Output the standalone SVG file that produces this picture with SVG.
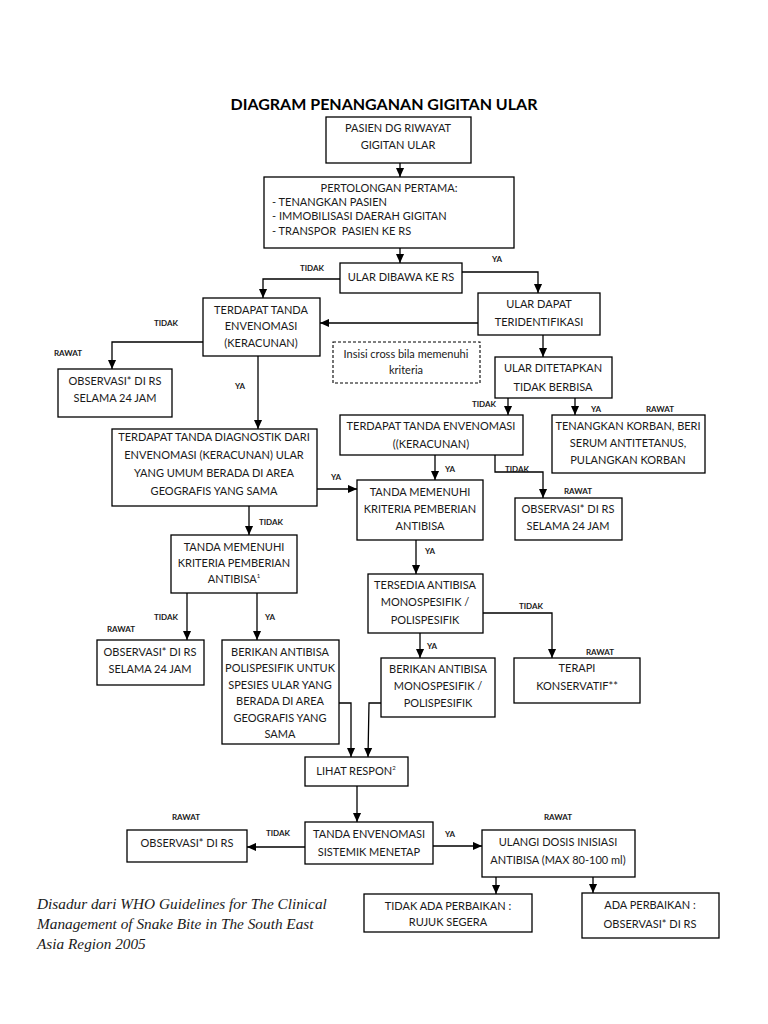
<svg xmlns="http://www.w3.org/2000/svg" width="768" height="1024" viewBox="0 0 768 1024">
<style>
.b{fill:#fff;stroke:#000;stroke-width:1.3}
.d{fill:#fff;stroke:#000;stroke-width:1.1;stroke-dasharray:3,2}
.t{font-family:Lato,"Open Sans",sans-serif;font-size:11px;fill:#1a1a1a;text-anchor:middle}
.tl{font-family:Lato,"Open Sans",sans-serif;font-size:11px;fill:#1a1a1a}
.l{font-family:Lato,"Open Sans",sans-serif;font-size:8px;font-weight:bold;fill:#1a1a1a;text-anchor:middle}
.c{fill:none;stroke:#000;stroke-width:1.3}
.ti{font-family:Lato,"Open Sans",sans-serif;font-size:16px;font-weight:bold;fill:#000;text-anchor:middle}
.f{font-family:"Liberation Serif","Times New Roman",serif;font-style:italic;font-size:15.3px;fill:#1a1a1a}
</style>
<defs>
<marker id="ah" viewBox="0 0 10 10" refX="10" refY="5" markerWidth="9" markerHeight="9" orient="auto" markerUnits="userSpaceOnUse"><path d="M0,0.5 L10,5 L0,9.5 z" fill="#000"/></marker>
</defs>
<rect width="768" height="1024" fill="#fff"/>
<text class="ti" x="384" y="110">DIAGRAM PENANGANAN GIGITAN ULAR</text>

<g id="connectors">
<path class="c" marker-end="url(#ah)" d="M400,163 V177"/>
<path class="c" marker-end="url(#ah)" d="M400,248 V263"/>
<path class="c" marker-end="url(#ah)" d="M340,279 H263 V298"/>
<path class="c" marker-end="url(#ah)" d="M462,272 H538 V293"/>
<path class="c" marker-end="url(#ah)" d="M478,323 H320"/>
<path class="c" marker-end="url(#ah)" d="M543,335 V357"/>
<path class="c" marker-end="url(#ah)" d="M203,342 H112 V369"/>
<path class="c" marker-end="url(#ah)" d="M258,356 V429"/>
<path class="c" marker-end="url(#ah)" d="M508,398 V415"/>
<path class="c" marker-end="url(#ah)" d="M575,398 V415"/>
<path class="c" marker-end="url(#ah)" d="M317,489 H357"/>
<path class="c" marker-end="url(#ah)" d="M435,455 V480"/>
<path class="c" marker-end="url(#ah)" d="M495,455 V472 H543 V498"/>
<path class="c" marker-end="url(#ah)" d="M249,506 V535"/>
<path class="c" marker-end="url(#ah)" d="M416,540 V574"/>
<path class="c" marker-end="url(#ah)" d="M187,593 V640"/>
<path class="c" marker-end="url(#ah)" d="M257,593 V640"/>
<path class="c" marker-end="url(#ah)" d="M483,613 H552 V658"/>
<path class="c" marker-end="url(#ah)" d="M420,633 V658"/>
<path class="c" marker-end="url(#ah)" d="M339,703 H351 V757"/>
<path class="c" marker-end="url(#ah)" d="M381,703 H369 L368,757"/>
<path class="c" marker-end="url(#ah)" d="M357,786 V822"/>
<path class="c" marker-end="url(#ah)" d="M305,847 H247"/>
<path class="c" marker-end="url(#ah)" d="M433,846 H482"/>
<path class="c" marker-end="url(#ah)" d="M496,877 V894"/>
<path class="c" marker-end="url(#ah)" d="M593,877 V893"/>
</g>

<g id="labels">
<text class="l" x="312" y="271">TIDAK</text>
<text class="l" x="497" y="262">YA</text>
<text class="l" x="166" y="326">TIDAK</text>
<text class="l" x="68" y="356">RAWAT</text>
<text class="l" x="240" y="389">YA</text>
<text class="l" x="484" y="407">TIDAK</text>
<text class="l" x="596" y="412">YA</text>
<text class="l" x="660" y="412">RAWAT</text>
<text class="l" x="336" y="480">YA</text>
<text class="l" x="450" y="472">YA</text>
<text class="l" x="517" y="472">TIDAK</text>
<text class="l" x="578" y="494">RAWAT</text>
<text class="l" x="271" y="525">TIDAK</text>
<text class="l" x="430" y="554">YA</text>
<text class="l" x="531" y="609">TIDAK</text>
<text class="l" x="600" y="655">RAWAT</text>
<text class="l" x="432" y="649">YA</text>
<text class="l" x="166" y="620">TIDAK</text>
<text class="l" x="121" y="632">RAWAT</text>
<text class="l" x="270" y="620">YA</text>
<text class="l" x="186" y="820">RAWAT</text>
<text class="l" x="278" y="836">TIDAK</text>
<text class="l" x="450" y="837">YA</text>
<text class="l" x="558" y="820">RAWAT</text>
</g>

<g id="n1"><rect class="b" x="326" y="117" width="145" height="46"/>
<text class="t" x="398" y="132">PASIEN DG RIWAYAT</text><text class="t" x="398" y="149">GIGITAN ULAR</text></g>

<g id="n2"><rect class="b" x="264" y="177" width="250" height="71"/>
<text class="t" x="389" y="192">PERTOLONGAN PERTAMA:</text>
<text class="tl" x="272" y="206">- TENANGKAN PASIEN</text>
<text class="tl" x="272" y="220">- IMMOBILISASI DAERAH GIGITAN</text>
<text class="tl" x="272" y="235" xml:space="preserve">- TRANSPOR  PASIEN KE RS</text></g>

<g id="n3"><rect class="b" x="340" y="263" width="122" height="30"/>
<text class="t" x="401" y="281">ULAR DIBAWA KE RS</text></g>

<g id="n4"><rect class="b" x="203" y="298" width="117" height="58"/>
<text class="t" x="261" y="314">TERDAPAT TANDA</text><text class="t" x="261" y="330">ENVENOMASI</text><text class="t" x="261" y="347">(KERACUNAN)</text></g>

<g id="n5"><rect class="b" x="478" y="293" width="122" height="42"/>
<text class="t" x="539" y="308">ULAR DAPAT</text><text class="t" x="539" y="326">TERIDENTIFIKASI</text></g>

<g id="n6"><rect class="d" x="333" y="342" width="147" height="41"/>
<text class="t" x="406" y="358">Insisi cross bila memenuhi</text><text class="t" x="406" y="374">kriteria</text></g>

<g id="n7"><rect class="b" x="495" y="357" width="117" height="41"/>
<text class="t" x="553" y="372">ULAR DITETAPKAN</text><text class="t" x="553" y="391">TIDAK BERBISA</text></g>

<g id="n8"><rect class="b" x="58" y="369" width="114" height="48"/>
<text class="t" x="115" y="385">OBSERVASI* DI RS</text><text class="t" x="115" y="402">SELAMA 24 JAM</text></g>

<g id="n9"><rect class="b" x="340" y="415" width="183" height="40"/>
<text class="t" x="431" y="430">TERDAPAT TANDA ENVENOMASI</text><text class="t" x="431" y="448">((KERACUNAN)</text></g>

<g id="n10"><rect class="b" x="552" y="415" width="153" height="58"/>
<text class="t" x="628" y="430">TENANGKAN KORBAN, BERI</text><text class="t" x="628" y="447">SERUM ANTITETANUS,</text><text class="t" x="628" y="464">PULANGKAN KORBAN</text></g>

<g id="n11"><rect class="b" x="112" y="429" width="205" height="77"/>
<text class="t" x="214" y="441">TERDAPAT TANDA DIAGNOSTIK DARI</text><text class="t" x="214" y="459">ENVENOMASI (KERACUNAN) ULAR</text><text class="t" x="214" y="477">YANG UMUM BERADA DI AREA</text><text class="t" x="214" y="495">GEOGRAFIS YANG SAMA</text></g>

<g id="n12"><rect class="b" x="357" y="480" width="126" height="60"/>
<text class="t" x="420" y="496">TANDA MEMENUHI</text><text class="t" x="420" y="513">KRITERIA PEMBERIAN</text><text class="t" x="420" y="530">ANTIBISA</text></g>

<g id="n13"><rect class="b" x="515" y="498" width="107" height="42"/>
<text class="t" x="568" y="513">OBSERVASI* DI RS</text><text class="t" x="568" y="530">SELAMA 24 JAM</text></g>

<g id="n14"><rect class="b" x="171" y="535" width="126" height="58"/>
<text class="t" x="234" y="551">TANDA MEMENUHI</text><text class="t" x="234" y="567">KRITERIA PEMBERIAN</text><text class="t" x="234" y="583">ANTIBISA<tspan dy="-5" font-size="6">1</tspan></text></g>

<g id="n15"><rect class="b" x="368" y="574" width="115" height="59"/>
<text class="t" x="425" y="589">TERSEDIA ANTIBISA</text><text class="t" x="425" y="606">MONOSPESIFIK /</text><text class="t" x="425" y="624">POLISPESIFIK</text></g>

<g id="n16"><rect class="b" x="97" y="640" width="107" height="45"/>
<text class="t" x="150" y="656">OBSERVASI* DI RS</text><text class="t" x="150" y="673">SELAMA 24 JAM</text></g>

<g id="n17"><rect class="b" x="222" y="640" width="117" height="104"/>
<text class="t" x="280" y="656">BERIKAN ANTIBISA</text><text class="t" x="280" y="672">POLISPESIFIK UNTUK</text><text class="t" x="280" y="689">SPESIES ULAR YANG</text><text class="t" x="280" y="705">BERADA DI AREA</text><text class="t" x="280" y="722">GEOGRAFIS YANG</text><text class="t" x="280" y="738">SAMA</text></g>

<g id="n18"><rect class="b" x="381" y="658" width="114" height="59"/>
<text class="t" x="438" y="673">BERIKAN ANTIBISA</text><text class="t" x="438" y="690">MONOSPESIFIK /</text><text class="t" x="438" y="707">POLISPESIFIK</text></g>

<g id="n19"><rect class="b" x="514" y="658" width="126" height="45"/>
<text class="t" x="577" y="672">TERAPI</text><text class="t" x="577" y="690">KONSERVATIF**</text></g>

<g id="n20"><rect class="b" x="305" y="757" width="103" height="29"/>
<text class="t" x="356" y="775">LIHAT RESPON<tspan dy="-5" font-size="6">2</tspan></text></g>

<g id="n21"><rect class="b" x="305" y="822" width="128" height="42"/>
<text class="t" x="369" y="838">TANDA ENVENOMASI</text><text class="t" x="369" y="856">SISTEMIK MENETAP</text></g>

<g id="n22"><rect class="b" x="127" y="830" width="120" height="32"/>
<text class="t" x="187" y="847">OBSERVASI* DI RS</text></g>

<g id="n23"><rect class="b" x="482" y="830" width="153" height="47"/>
<text class="t" x="558" y="846">ULANGI DOSIS INISIASI</text><text class="t" x="558" y="864">ANTIBISA (MAX 80-100 ml)</text></g>

<g id="n24"><rect class="b" x="364" y="894" width="168" height="38"/>
<text class="t" x="448" y="910">TIDAK ADA PERBAIKAN :</text><text class="t" x="448" y="926">RUJUK SEGERA</text></g>

<g id="n25"><rect class="b" x="582" y="893" width="137" height="45"/>
<text class="t" x="650" y="909">ADA PERBAIKAN :</text><text class="t" x="650" y="928">OBSERVASI* DI RS</text></g>

<g id="footer">
<text class="f" x="37" y="909">Disadur dari WHO Guidelines for The Clinical</text>
<text class="f" x="37" y="929">Management of Snake Bite in The South East</text>
<text class="f" x="37" y="949">Asia Region 2005</text>
</g>
</svg>
